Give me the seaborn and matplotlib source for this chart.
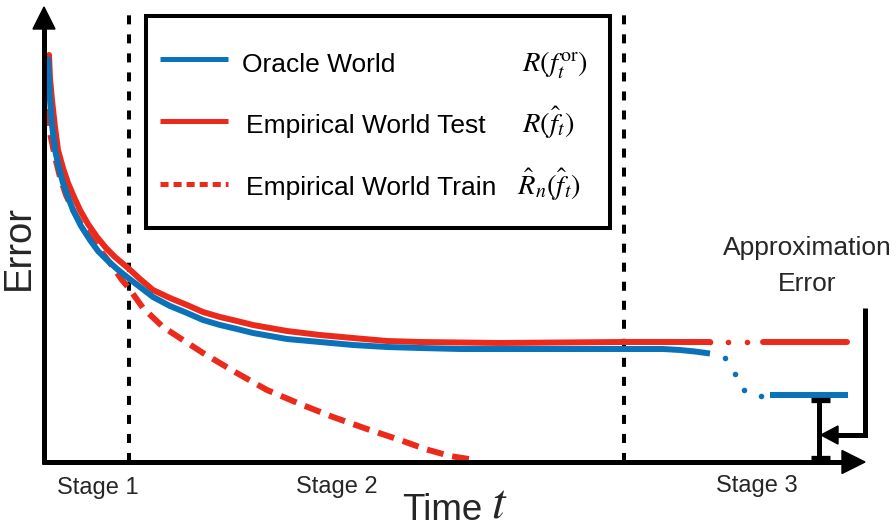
import numpy as np
import pandas as pd
import matplotlib
matplotlib.use("Agg")
import matplotlib.pyplot as plt
from matplotlib.patches import Polygon, Rectangle
import seaborn as sns

# ---------------- data (time, error) ----------------
oracle_time = [4, 5, 6, 8, 11, 15, 19, 24, 29, 37, 46, 54, 63, 73, 83, 96, 109, 126, 143, 159,
               176, 193, 209, 226, 243, 276, 309, 343, 376, 416, 456, 516, 580, 619, 636, 651, 666]
oracle_error = [405, 382, 362, 337, 312, 294, 279, 265, 252, 236, 222, 211, 202, 193, 185, 175, 165,
                156, 149, 142, 137, 133, 129, 126, 123, 120, 117, 115, 114, 113, 113, 113, 113, 113,
                112, 110.5, 108.5]

test_time = [5, 6, 8, 11, 14, 19, 24, 30, 36, 44, 53, 62, 71, 84, 96, 109, 126, 143, 159, 176,
             193, 209, 226, 243, 276, 309, 343, 376, 416, 456, 516, 580, 666]
test_error = [407, 384, 362, 335, 312, 294, 279, 265, 252, 238, 225, 214, 205, 194, 183, 172, 164,
              157, 150, 145, 141, 137, 134, 131, 127, 124, 121, 120, 119.5, 119, 119.5, 120, 120]

train_time = [4, 5, 6, 11, 16, 22, 29, 37, 46, 56, 66, 78, 84, 99, 119, 139, 159, 191, 223, 256,
              289, 323, 356, 381, 406, 431]
train_error = [405, 362, 329, 305, 285, 267, 252, 238, 225, 212, 199, 182, 175, 154, 135, 122, 109,
               90, 72, 58, 45, 33, 22, 13, 6, 2]

# stage 3 (dotted transition + asymptotes)
test_dot_time = [666, 684, 703]
test_dot_error = [120, 120, 120]
oracle_dot_time = [681, 691, 700, 717]
oracle_dot_error = [104, 88, 72, 66]
test_final_time = [719, 803]
test_final_error = [120, 120]
oracle_final_time = [726, 804]
oracle_final_error = [67, 67]

stage_bounds = [85, 580]
stage_labels = ["Stage 1", "Stage 2", "Stage 3"]
legend_labels = ["Oracle World", "Empirical World Test", "Empirical World Train"]
legend_math = [r"$R(f_t^{\mathrm{or}})$", r"$R(\hat{f}_t)$", r"$\hat{R}_n(\hat{f}_t)$"]

BLUE = "#0A72B8"
RED = "#EB2A1C"

# ---------------- style ----------------
sns.set_theme(style="white")
plt.rcParams["font.family"] = ["Liberation Sans", "DejaVu Sans"]
plt.rcParams["mathtext.fontset"] = "stix"
plt.rcParams["lines.scale_dashes"] = False

fig = plt.figure(figsize=(8.96, 5.29), dpi=100)
ax = fig.add_axes([0, 0, 1, 1])
ax.set_xlim(-44, 852)
ax.set_ylim(-67, 462)
ax.axis("off")


def P(x, y):
    """pixel position of the picture -> chart units"""
    return (x - 44, 462 - y)


def poly(points, **kw):
    ax.add_patch(Polygon([P(*p) for p in points], closed=True, **kw))


# ---------------- axes with arrows ----------------
AX_LW = 3.6
ax.plot(*zip(P(44, 464), P(44, 26)), color="black", lw=AX_LW, solid_capstyle="butt", zorder=5)
poly([(44, 7), (33, 29), (55, 29)], color="black", zorder=5)
ax.plot(*zip(P(42, 462), P(845, 462)), color="black", lw=AX_LW, solid_capstyle="butt", zorder=5)
poly([(865, 462), (842, 450.5), (842, 473.5)], color="black", zorder=5)

# stage boundaries
for b in stage_bounds:
    ax.plot([b, b], [0, 454], color="black", lw=2.9, linestyle=(0, (6.5, 7.2)),
            solid_capstyle="butt", dash_capstyle="butt", zorder=2)

# ---------------- curves ----------------
sns.lineplot(x=train_time, y=train_error, sort=False, estimator=None, color=RED, lw=4.3,
             linestyle=(0, (12.2, 6.5)), dash_capstyle="butt", dash_joinstyle="round", ax=ax, zorder=3)
sns.lineplot(x=test_time, y=test_error, sort=False, estimator=None, color=RED, lw=4.3,
             solid_capstyle="round", solid_joinstyle="round", ax=ax, zorder=3)
sns.lineplot(x=oracle_time, y=oracle_error, sort=False, estimator=None, color=BLUE, lw=4.3,
             solid_capstyle="butt", solid_joinstyle="round", ax=ax, zorder=4)

sns.scatterplot(x=test_dot_time, y=test_dot_error, color=RED, s=16, linewidth=0, ax=ax, zorder=3)
sns.scatterplot(x=oracle_dot_time, y=oracle_dot_error, color=BLUE, s=16, linewidth=0, ax=ax, zorder=4)
sns.lineplot(x=test_final_time, y=test_final_error, sort=False, estimator=None, color=RED, lw=4.3,
             solid_capstyle="round", ax=ax, zorder=3)
sns.lineplot(x=oracle_final_time, y=oracle_final_error, sort=False, estimator=None, color=BLUE, lw=4.3,
             solid_capstyle="butt", ax=ax, zorder=4)

# ---------------- approximation error bracket ----------------
gap_x = 775
ax.plot([gap_x, gap_x], [oracle_final_error[0] - 5, 4], color="black", lw=3.6, solid_capstyle="butt", zorder=5)
for yy in (oracle_final_error[0] - 5, 4):
    ax.plot([gap_x - 8, gap_x + 11], [yy, yy], color="black", lw=3.8, solid_capstyle="butt", zorder=5)
ax.plot(*zip(P(865, 308), P(865, 435), P(836, 435)), color="black", lw=3.6,
        solid_joinstyle="miter", solid_capstyle="butt", zorder=5)
poly([(821, 435), (838, 426), (838, 444)], color="black", zorder=5)

# ---------------- legend box ----------------
x0, y0 = P(146, 228)
x1, y1 = P(610, 16)
ax.add_patch(Rectangle((x0, y0), x1 - x0, y1 - y0, fill=False, edgecolor="black", lw=2.9, zorder=6))

leg_y = [59, 121, 184]
leg_base = [72, 133, 195]
leg_styles = [dict(color=BLUE, linestyle="-"), dict(color=RED, linestyle="-"),
              dict(color=RED, linestyle=(0, (5.8, 3.6)))]
for yy, st in zip(leg_y, leg_styles):
    ax.plot(*zip(P(160, yy), P(228, yy)), lw=3.6, solid_capstyle="butt", dash_capstyle="butt", zorder=6, **st)
for lab, yb, xl in zip(legend_labels, leg_base, [242, 246, 246]):
    ax.text(*P(xl, yb), lab, fontsize=19, ha="left", va="baseline", color="black", zorder=6)
for m, yb, xl in zip(legend_math, leg_base, [522, 522, 517]):
    ax.text(*P(xl, yb), m, fontsize=20.5, ha="left", va="baseline", color="black", zorder=6)

# ---------------- labels ----------------
ax.text(*P(19, 247), "Error", fontsize=27.5, rotation=90, ha="center", va="center")
ax.text(*P(402, 528), "Time", fontsize=26.5, ha="left", va="bottom")
ax.text(*P(491, 528), r"$t$", fontsize=35, ha="left", va="bottom")

for lab, cx, yb in zip(stage_labels, [98, 337, 757], [494, 493, 492]):
    ax.text(*P(cx, yb), lab, fontsize=17, ha="center", va="baseline")

ax.text(*P(807, 255), "Approximation", fontsize=19, ha="center", va="baseline")
ax.text(*P(807, 291), "Error", fontsize=19, ha="center", va="baseline")

fig.savefig("out.png", dpi=100)
